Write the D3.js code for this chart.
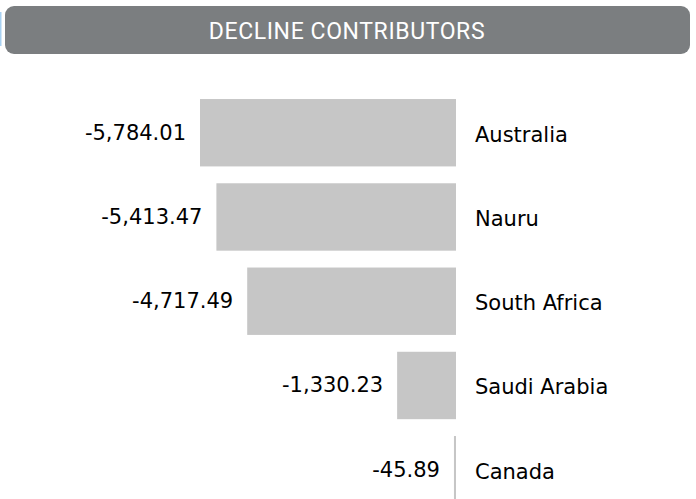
<!DOCTYPE html>
<html>
<head>
<meta charset="utf-8">
<script src="https://cdn.jsdelivr.net/npm/d3@7/dist/d3.min.js"></script>
<style>
  html, body { margin: 0; padding: 0; background: #ffffff; }
  svg { display: block; }
</style>
</head>
<body>
<svg id="chart" width="696" height="499"></svg>
<script>
// Decline contributors: countries and their (negative) change values
const countries = ["Australia", "Nauru", "South Africa", "Saudi Arabia", "Canada"];
const values = [-5784.01, -5413.47, -4717.49, -1330.23, -45.89];
const title = "DECLINE CONTRIBUTORS";

const svg = d3.select("#chart");

// Header banner
svg.append("rect")
  .attr("x", 0).attr("y", 12).attr("width", 1.5).attr("height", 34)
  .attr("fill", "#a9d2f2");
svg.append("rect")
  .attr("x", 5).attr("y", 6).attr("width", 685).attr("height", 48)
  .attr("rx", 9).attr("ry", 9)
  .attr("fill", "#7b7e80");
svg.append("text")
  .attr("x", 347).attr("y", 38.5)
  .attr("text-anchor", "middle")
  .attr("font-family", "Roboto, sans-serif")
  .attr("font-size", 23)
  .attr("letter-spacing", 0.6)
  .attr("fill", "#ffffff")
  .text(title);

// Scales
const x = d3.scaleLinear()
  .domain([d3.min(values), 0])
  .range([200, 456]);

const y = d3.scaleBand()
  .domain(countries)
  .range([90.6, 90.6 + 5 * 84.25])
  .paddingInner(0.2)
  .paddingOuter(0.1);

const data = countries.map((c, i) => ({ country: c, value: values[i] }));

const g = svg.append("g");

g.selectAll("rect.bar")
  .data(data)
  .join("rect")
  .attr("class", "bar")
  .attr("x", d => x(d.value))
  .attr("y", d => y(d.country))
  .attr("width", d => Math.max(2, x(0) - x(d.value)))
  .attr("height", y.bandwidth())
  .attr("fill", "#c6c6c6");

const fmt = d3.format(",.2f");

g.selectAll("text.value")
  .data(data)
  .join("text")
  .attr("class", "value")
  .attr("x", d => Math.min(x(d.value), x(0) - 2) - 14)
  .attr("y", d => y(d.country) + y.bandwidth() / 2 + 7)
  .attr("text-anchor", "end")
  .attr("font-family", "DejaVu Sans, sans-serif")
  .attr("font-size", 21)
  .attr("fill", "#000000")
  .text(d => fmt(d.value).replace("−", "-"));

g.selectAll("text.country")
  .data(data)
  .join("text")
  .attr("class", "country")
  .attr("x", 475)
  .attr("y", d => y(d.country) + y.bandwidth() / 2 + 9)
  .attr("text-anchor", "start")
  .attr("font-family", "DejaVu Sans, sans-serif")
  .attr("font-size", 21)
  .attr("fill", "#000000")
  .text(d => d.country);
</script>
</body>
</html>
